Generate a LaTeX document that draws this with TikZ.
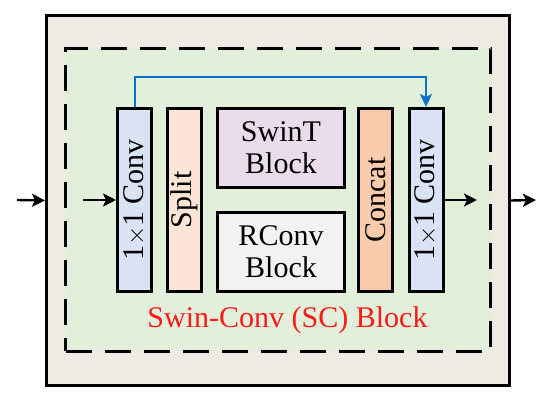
\documentclass[tikz,border=0pt]{standalone}
\usepackage{fontspec}
\setmainfont{Liberation Serif}
\usetikzlibrary{arrows.meta}
\definecolor{outerbg}{HTML}{EFEAE2}
\definecolor{innerbg}{HTML}{E2EFDA}
\definecolor{convc}{HTML}{DAE3F3}
\definecolor{splitc}{HTML}{FBE5D6}
\definecolor{swinc}{HTML}{EADCEB}
\definecolor{rconvc}{HTML}{F2F2F2}
\definecolor{concatc}{HTML}{F8CBAD}
\definecolor{skipc}{HTML}{0A72C8}
\definecolor{redc}{HTML}{FF1A1A}
\begin{document}
\begin{tikzpicture}[x=1pt,y=-1pt,
  every node/.style={font=\fontsize{30}{32}\selectfont, inner sep=0pt},
  blk/.style={draw=black, line width=3pt, rectangle, align=center},
  tall/.style={blk, minimum width=34pt, minimum height=183pt},
  wide/.style={blk, minimum width=127pt, minimum height=79pt},
  arr/.style={line width=2.4pt, -{Stealth[length=13pt,width=13pt,inset=3pt]}},
  skiparr/.style={draw=skipc, line width=2pt, -{Stealth[length=13pt,width=12pt,inset=3pt]}}
]
\useasboundingbox (0,0) rectangle (550,401);
\node[draw=black, line width=3pt, fill=outerbg, minimum width=463pt, minimum height=370pt] (outer) at (278,200.5) {};
\node[draw=black, line width=3pt, dash pattern=on 26pt off 13pt, fill=innerbg, minimum width=425pt, minimum height=303pt] (inner) at (278,200) {};
\node[tall, fill=convc] (convL) at (134.5,200) {\rotatebox{90}{1$\times$1 Conv}};
\node[tall, fill=splitc] (split) at (184.5,200) {\rotatebox{90}{Split}};
\node[wide, fill=swinc] (swin) at (281,148) {SwinT\\Block};
\node[wide, fill=rconvc] (rconv) at (281,252) {RConv\\Block};
\node[tall, fill=concatc] (concat) at (375.5,200) {\rotatebox{90}{Concat}};
\node[tall, fill=convc] (convR) at (426,200) {\rotatebox{90}{1$\times$1 Conv}};
\node[text=redc, anchor=base] (label) at (287.5,328) {Swin-Conv (SC) Block};
\coordinate (inL) at (17,200);
\coordinate (inL2) at (83,200);
\coordinate (outR) at (477,200);
\coordinate (outR2) at (536,200);
\draw[arr] (inL) -- (outer.west);
\draw[arr] (inL2) -- (convL.west);
\draw[arr] (convR.east) -- (outR);
\draw[arr] (outer.east) -- (outR2);
\draw[skiparr] (convL.north) -- ++(0,-30) -| (convR.north);
\end{tikzpicture}
\end{document}
